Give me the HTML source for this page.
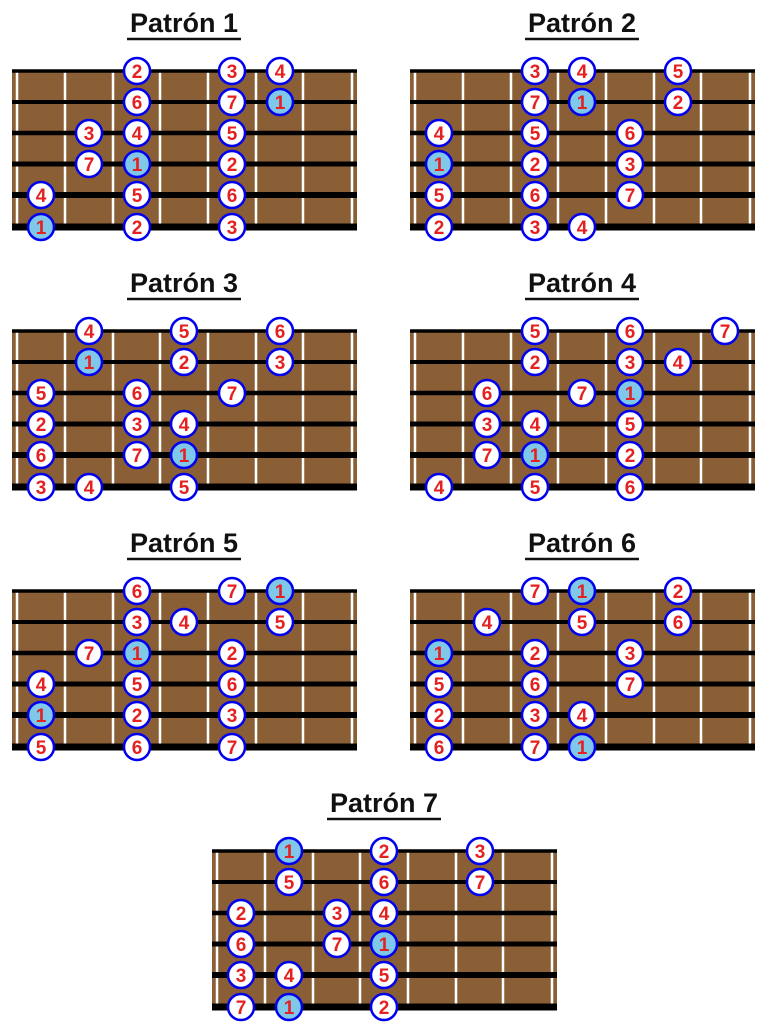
<!DOCTYPE html>
<html><head><meta charset="utf-8"><style>
html,body{margin:0;padding:0;background:#fff}
svg{display:block}
.t{font-family:"Liberation Sans",sans-serif;font-weight:bold;font-size:27px;text-anchor:middle;fill:#111}
.n circle{fill:#fff;stroke:#0000ee;stroke-width:2.5;r:13px}
.n.r circle{fill:#7fc8ea}
.n text{font-family:"Liberation Sans",sans-serif;font-weight:bold;font-size:19px;fill:#e52020;text-anchor:middle}
</style></head><body>
<svg width="768" height="1024" viewBox="0 0 768 1024">
<defs>
<g id="b">
<rect x="12" y="71" width="345" height="158" fill="#8b5f35"/>
<g stroke="#fff" stroke-width="2.5"><line x1="17" y1="71" x2="17" y2="229"/><line x1="65" y1="71" x2="65" y2="229"/><line x1="113" y1="71" x2="113" y2="229"/><line x1="160" y1="71" x2="160" y2="229"/><line x1="208" y1="71" x2="208" y2="229"/><line x1="256" y1="71" x2="256" y2="229"/><line x1="303" y1="71" x2="303" y2="229"/><line x1="352" y1="71" x2="352" y2="229"/></g>
<g stroke="#000"><line x1="12" x2="357" y1="71" y2="71" stroke-width="3.5"/><line x1="12" x2="357" y1="102" y2="102" stroke-width="4"/><line x1="12" x2="357" y1="133" y2="133" stroke-width="4.5"/><line x1="12" x2="357" y1="164" y2="164" stroke-width="5"/><line x1="12" x2="357" y1="195" y2="195" stroke-width="6"/><line x1="12" x2="357" y1="227" y2="227" stroke-width="7"/></g>
<line x1="127" x2="241" y1="39" y2="39" stroke="#111" stroke-width="2.5"/>
</g>
</defs>

<g>
<use href="#b"/><text class="t" x="184" y="32">Patrón 1</text>
<g class="n" transform="translate(137,71)"><circle r="13"/><text y="7">2</text></g>
<g class="n" transform="translate(232,71)"><circle r="13"/><text y="7">3</text></g>
<g class="n" transform="translate(280,71)"><circle r="13"/><text y="7">4</text></g>
<g class="n" transform="translate(137,102)"><circle r="13"/><text y="7">6</text></g>
<g class="n" transform="translate(232,102)"><circle r="13"/><text y="7">7</text></g>
<g class="n r" transform="translate(280,102)"><circle r="13"/><text y="7">1</text></g>
<g class="n" transform="translate(89,133)"><circle r="13"/><text y="7">3</text></g>
<g class="n" transform="translate(137,133)"><circle r="13"/><text y="7">4</text></g>
<g class="n" transform="translate(232,133)"><circle r="13"/><text y="7">5</text></g>
<g class="n" transform="translate(89,164)"><circle r="13"/><text y="7">7</text></g>
<g class="n r" transform="translate(137,164)"><circle r="13"/><text y="7">1</text></g>
<g class="n" transform="translate(232,164)"><circle r="13"/><text y="7">2</text></g>
<g class="n" transform="translate(41,195)"><circle r="13"/><text y="7">4</text></g>
<g class="n" transform="translate(137,195)"><circle r="13"/><text y="7">5</text></g>
<g class="n" transform="translate(232,195)"><circle r="13"/><text y="7">6</text></g>
<g class="n r" transform="translate(41,227)"><circle r="13"/><text y="7">1</text></g>
<g class="n" transform="translate(137,227)"><circle r="13"/><text y="7">2</text></g>
<g class="n" transform="translate(232,227)"><circle r="13"/><text y="7">3</text></g>
</g>

<g transform="translate(398,0)">
<use href="#b"/><text class="t" x="184" y="32">Patrón 2</text>
<g class="n" transform="translate(137,71)"><circle r="13"/><text y="7">3</text></g>
<g class="n" transform="translate(184,71)"><circle r="13"/><text y="7">4</text></g>
<g class="n" transform="translate(280,71)"><circle r="13"/><text y="7">5</text></g>
<g class="n" transform="translate(137,102)"><circle r="13"/><text y="7">7</text></g>
<g class="n r" transform="translate(184,102)"><circle r="13"/><text y="7">1</text></g>
<g class="n" transform="translate(280,102)"><circle r="13"/><text y="7">2</text></g>
<g class="n" transform="translate(41,133)"><circle r="13"/><text y="7">4</text></g>
<g class="n" transform="translate(137,133)"><circle r="13"/><text y="7">5</text></g>
<g class="n" transform="translate(232,133)"><circle r="13"/><text y="7">6</text></g>
<g class="n r" transform="translate(41,164)"><circle r="13"/><text y="7">1</text></g>
<g class="n" transform="translate(137,164)"><circle r="13"/><text y="7">2</text></g>
<g class="n" transform="translate(232,164)"><circle r="13"/><text y="7">3</text></g>
<g class="n" transform="translate(41,195)"><circle r="13"/><text y="7">5</text></g>
<g class="n" transform="translate(137,195)"><circle r="13"/><text y="7">6</text></g>
<g class="n" transform="translate(232,195)"><circle r="13"/><text y="7">7</text></g>
<g class="n" transform="translate(41,227)"><circle r="13"/><text y="7">2</text></g>
<g class="n" transform="translate(137,227)"><circle r="13"/><text y="7">3</text></g>
<g class="n" transform="translate(184,227)"><circle r="13"/><text y="7">4</text></g>
</g>

<g transform="translate(0,260)">
<use href="#b"/><text class="t" x="184" y="32">Patrón 3</text>
<g class="n" transform="translate(89,71)"><circle r="13"/><text y="7">4</text></g>
<g class="n" transform="translate(184,71)"><circle r="13"/><text y="7">5</text></g>
<g class="n" transform="translate(280,71)"><circle r="13"/><text y="7">6</text></g>
<g class="n r" transform="translate(89,102)"><circle r="13"/><text y="7">1</text></g>
<g class="n" transform="translate(184,102)"><circle r="13"/><text y="7">2</text></g>
<g class="n" transform="translate(280,102)"><circle r="13"/><text y="7">3</text></g>
<g class="n" transform="translate(41,133)"><circle r="13"/><text y="7">5</text></g>
<g class="n" transform="translate(137,133)"><circle r="13"/><text y="7">6</text></g>
<g class="n" transform="translate(232,133)"><circle r="13"/><text y="7">7</text></g>
<g class="n" transform="translate(41,164)"><circle r="13"/><text y="7">2</text></g>
<g class="n" transform="translate(137,164)"><circle r="13"/><text y="7">3</text></g>
<g class="n" transform="translate(184,164)"><circle r="13"/><text y="7">4</text></g>
<g class="n" transform="translate(41,195)"><circle r="13"/><text y="7">6</text></g>
<g class="n" transform="translate(137,195)"><circle r="13"/><text y="7">7</text></g>
<g class="n r" transform="translate(184,195)"><circle r="13"/><text y="7">1</text></g>
<g class="n" transform="translate(41,227)"><circle r="13"/><text y="7">3</text></g>
<g class="n" transform="translate(89,227)"><circle r="13"/><text y="7">4</text></g>
<g class="n" transform="translate(184,227)"><circle r="13"/><text y="7">5</text></g>
</g>

<g transform="translate(398,260)">
<use href="#b"/><text class="t" x="184" y="32">Patrón 4</text>
<g class="n" transform="translate(137,71)"><circle r="13"/><text y="7">5</text></g>
<g class="n" transform="translate(232,71)"><circle r="13"/><text y="7">6</text></g>
<g class="n" transform="translate(327,71)"><circle r="13"/><text y="7">7</text></g>
<g class="n" transform="translate(137,102)"><circle r="13"/><text y="7">2</text></g>
<g class="n" transform="translate(232,102)"><circle r="13"/><text y="7">3</text></g>
<g class="n" transform="translate(280,102)"><circle r="13"/><text y="7">4</text></g>
<g class="n" transform="translate(89,133)"><circle r="13"/><text y="7">6</text></g>
<g class="n" transform="translate(184,133)"><circle r="13"/><text y="7">7</text></g>
<g class="n r" transform="translate(232,133)"><circle r="13"/><text y="7">1</text></g>
<g class="n" transform="translate(89,164)"><circle r="13"/><text y="7">3</text></g>
<g class="n" transform="translate(137,164)"><circle r="13"/><text y="7">4</text></g>
<g class="n" transform="translate(232,164)"><circle r="13"/><text y="7">5</text></g>
<g class="n" transform="translate(89,195)"><circle r="13"/><text y="7">7</text></g>
<g class="n r" transform="translate(137,195)"><circle r="13"/><text y="7">1</text></g>
<g class="n" transform="translate(232,195)"><circle r="13"/><text y="7">2</text></g>
<g class="n" transform="translate(41,227)"><circle r="13"/><text y="7">4</text></g>
<g class="n" transform="translate(137,227)"><circle r="13"/><text y="7">5</text></g>
<g class="n" transform="translate(232,227)"><circle r="13"/><text y="7">6</text></g>
</g>

<g transform="translate(0,520)">
<use href="#b"/><text class="t" x="184" y="32">Patrón 5</text>
<g class="n" transform="translate(137,71)"><circle r="13"/><text y="7">6</text></g>
<g class="n" transform="translate(232,71)"><circle r="13"/><text y="7">7</text></g>
<g class="n r" transform="translate(280,71)"><circle r="13"/><text y="7">1</text></g>
<g class="n" transform="translate(137,102)"><circle r="13"/><text y="7">3</text></g>
<g class="n" transform="translate(184,102)"><circle r="13"/><text y="7">4</text></g>
<g class="n" transform="translate(280,102)"><circle r="13"/><text y="7">5</text></g>
<g class="n" transform="translate(89,133)"><circle r="13"/><text y="7">7</text></g>
<g class="n r" transform="translate(137,133)"><circle r="13"/><text y="7">1</text></g>
<g class="n" transform="translate(232,133)"><circle r="13"/><text y="7">2</text></g>
<g class="n" transform="translate(41,164)"><circle r="13"/><text y="7">4</text></g>
<g class="n" transform="translate(137,164)"><circle r="13"/><text y="7">5</text></g>
<g class="n" transform="translate(232,164)"><circle r="13"/><text y="7">6</text></g>
<g class="n r" transform="translate(41,195)"><circle r="13"/><text y="7">1</text></g>
<g class="n" transform="translate(137,195)"><circle r="13"/><text y="7">2</text></g>
<g class="n" transform="translate(232,195)"><circle r="13"/><text y="7">3</text></g>
<g class="n" transform="translate(41,227)"><circle r="13"/><text y="7">5</text></g>
<g class="n" transform="translate(137,227)"><circle r="13"/><text y="7">6</text></g>
<g class="n" transform="translate(232,227)"><circle r="13"/><text y="7">7</text></g>
</g>

<g transform="translate(398,520)">
<use href="#b"/><text class="t" x="184" y="32">Patrón 6</text>
<g class="n" transform="translate(137,71)"><circle r="13"/><text y="7">7</text></g>
<g class="n r" transform="translate(184,71)"><circle r="13"/><text y="7">1</text></g>
<g class="n" transform="translate(280,71)"><circle r="13"/><text y="7">2</text></g>
<g class="n" transform="translate(89,102)"><circle r="13"/><text y="7">4</text></g>
<g class="n" transform="translate(184,102)"><circle r="13"/><text y="7">5</text></g>
<g class="n" transform="translate(280,102)"><circle r="13"/><text y="7">6</text></g>
<g class="n r" transform="translate(41,133)"><circle r="13"/><text y="7">1</text></g>
<g class="n" transform="translate(137,133)"><circle r="13"/><text y="7">2</text></g>
<g class="n" transform="translate(232,133)"><circle r="13"/><text y="7">3</text></g>
<g class="n" transform="translate(41,164)"><circle r="13"/><text y="7">5</text></g>
<g class="n" transform="translate(137,164)"><circle r="13"/><text y="7">6</text></g>
<g class="n" transform="translate(232,164)"><circle r="13"/><text y="7">7</text></g>
<g class="n" transform="translate(41,195)"><circle r="13"/><text y="7">2</text></g>
<g class="n" transform="translate(137,195)"><circle r="13"/><text y="7">3</text></g>
<g class="n" transform="translate(184,195)"><circle r="13"/><text y="7">4</text></g>
<g class="n" transform="translate(41,227)"><circle r="13"/><text y="7">6</text></g>
<g class="n" transform="translate(137,227)"><circle r="13"/><text y="7">7</text></g>
<g class="n r" transform="translate(184,227)"><circle r="13"/><text y="7">1</text></g>
</g>

<g transform="translate(200,780)">
<use href="#b"/><text class="t" x="184" y="32">Patrón 7</text>
<g class="n r" transform="translate(89,71)"><circle r="13"/><text y="7">1</text></g>
<g class="n" transform="translate(184,71)"><circle r="13"/><text y="7">2</text></g>
<g class="n" transform="translate(280,71)"><circle r="13"/><text y="7">3</text></g>
<g class="n" transform="translate(89,102)"><circle r="13"/><text y="7">5</text></g>
<g class="n" transform="translate(184,102)"><circle r="13"/><text y="7">6</text></g>
<g class="n" transform="translate(280,102)"><circle r="13"/><text y="7">7</text></g>
<g class="n" transform="translate(41,133)"><circle r="13"/><text y="7">2</text></g>
<g class="n" transform="translate(137,133)"><circle r="13"/><text y="7">3</text></g>
<g class="n" transform="translate(184,133)"><circle r="13"/><text y="7">4</text></g>
<g class="n" transform="translate(41,164)"><circle r="13"/><text y="7">6</text></g>
<g class="n" transform="translate(137,164)"><circle r="13"/><text y="7">7</text></g>
<g class="n r" transform="translate(184,164)"><circle r="13"/><text y="7">1</text></g>
<g class="n" transform="translate(41,195)"><circle r="13"/><text y="7">3</text></g>
<g class="n" transform="translate(89,195)"><circle r="13"/><text y="7">4</text></g>
<g class="n" transform="translate(184,195)"><circle r="13"/><text y="7">5</text></g>
<g class="n" transform="translate(41,227)"><circle r="13"/><text y="7">7</text></g>
<g class="n r" transform="translate(89,227)"><circle r="13"/><text y="7">1</text></g>
<g class="n" transform="translate(184,227)"><circle r="13"/><text y="7">2</text></g>
</g>
</svg>
</body></html>
